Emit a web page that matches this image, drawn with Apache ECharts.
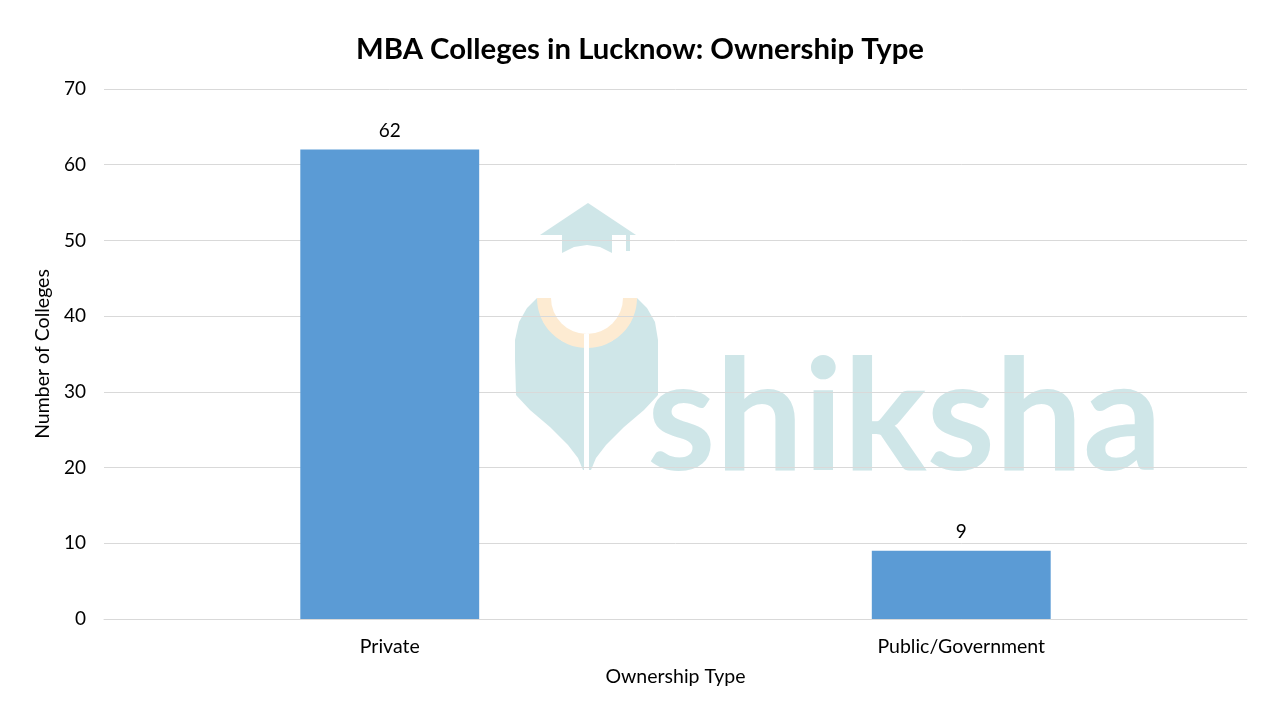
<!DOCTYPE html>
<html>
<head>
<meta charset="utf-8">
<script src="https://cdn.jsdelivr.net/npm/echarts@6/dist/echarts.min.js"></script>
<style>html,body{margin:0;padding:0;background:#fff}#c{width:1280px;height:720px}</style>
</head>
<body>
<div id="c"></div>
<script>
const categories = ['Private', 'Public/Government'];
const values = [62, 9];
const yTicks = { min: 0, max: 70, interval: 10 };
const titleText = 'MBA Colleges in Lucknow: Ownership Type';
const xName = 'Ownership Type';
const yName = 'Number of Colleges';
const watermarkText = 'shiksha';

const FONT = 'Lato, "Open Sans", sans-serif';
const TEAL = '#cfe6e8';
const ORANGE = '#fdebd2';

const bodyPts = [[537,298],[527,308],[519,322],[515,340],[515,360],[516,395],[530,410],[550,427],[568,445],[578,458],[583,470],[591,470],[596,458],[606,445],[624,427],[644,410],[658,395],[658,360],[658,340],[655,322],[647,308],[637,298],
  [630,323],[612,341],[587,348],[562,341],[544,323]];

const chart = echarts.init(document.getElementById('c'));
chart.setOption({
  backgroundColor: '#fff',
  animation: false,
  title: {
    text: titleText, left: 'center', top: 30,
    textStyle: { fontFamily: FONT, fontSize: 29.3, fontWeight: 'bold', color: '#000' }
  },
  graphic: [
    { type: 'polygon', z: -10, silent: true, shape: { points: [[540,235],[588,203],[636,235]] }, style: { fill: TEAL } },
    { type: 'polygon', z: -10, silent: true, shape: { points: [[562,235],[612,235],[612,253],[600,247],[587,245],[574,247],[562,253]] }, style: { fill: TEAL } },
    { type: 'rect', z: -10, silent: true, shape: { x: 626, y: 235, width: 4, height: 16 }, style: { fill: TEAL } },
    { type: 'polygon', z: -10, silent: true, shape: { points: bodyPts }, style: { fill: TEAL } },
    { type: 'sector', z: -10, silent: true, shape: { cx: 587, cy: 298, r: 50, r0: 36, startAngle: 0, endAngle: Math.PI, clockwise: true }, style: { fill: ORANGE } },
    { type: 'rect', z: -9, silent: true, shape: { x: 584, y: 334, width: 5, height: 138 }, style: { fill: '#fff' } },
    { type: 'text', z: -10, silent: true, left: 647, top: 342,
      style: { text: watermarkText, fontFamily: FONT, fontSize: 156, fontWeight: 'bold', fill: TEAL } }
  ],
  grid: { left: 104, right: 33, top: 89, bottom: 101 },
  xAxis: {
    type: 'category', data: categories,
    name: xName, nameLocation: 'middle', nameGap: 48,
    nameTextStyle: { fontFamily: FONT, fontSize: 19.5, color: '#000' },
    axisLine: { show: true, lineStyle: { color: '#d9d9d9', width: 1 } },
    axisTick: { show: false },
    axisLabel: { fontFamily: FONT, fontSize: 19.5, color: '#000', margin: 18 }
  },
  yAxis: {
    type: 'value', min: yTicks.min, max: yTicks.max, interval: yTicks.interval,
    name: yName, nameLocation: 'middle', nameGap: 42, nameRotate: 90,
    nameTextStyle: { fontFamily: FONT, fontSize: 19.5, color: '#000' },
    axisLine: { show: false }, axisTick: { show: false },
    axisLabel: { fontFamily: FONT, fontSize: 19, color: '#000', margin: 18 },
    splitLine: { lineStyle: { color: '#d9d9d9', width: 1 } }
  },
  series: [{
    type: 'bar', data: values, barWidth: '31.3%',
    itemStyle: { color: '#5b9bd5' },
    label: { show: true, position: 'top', distance: 9, fontFamily: FONT, fontSize: 19, color: '#000' }
  }]
});
</script>
</body>
</html>
